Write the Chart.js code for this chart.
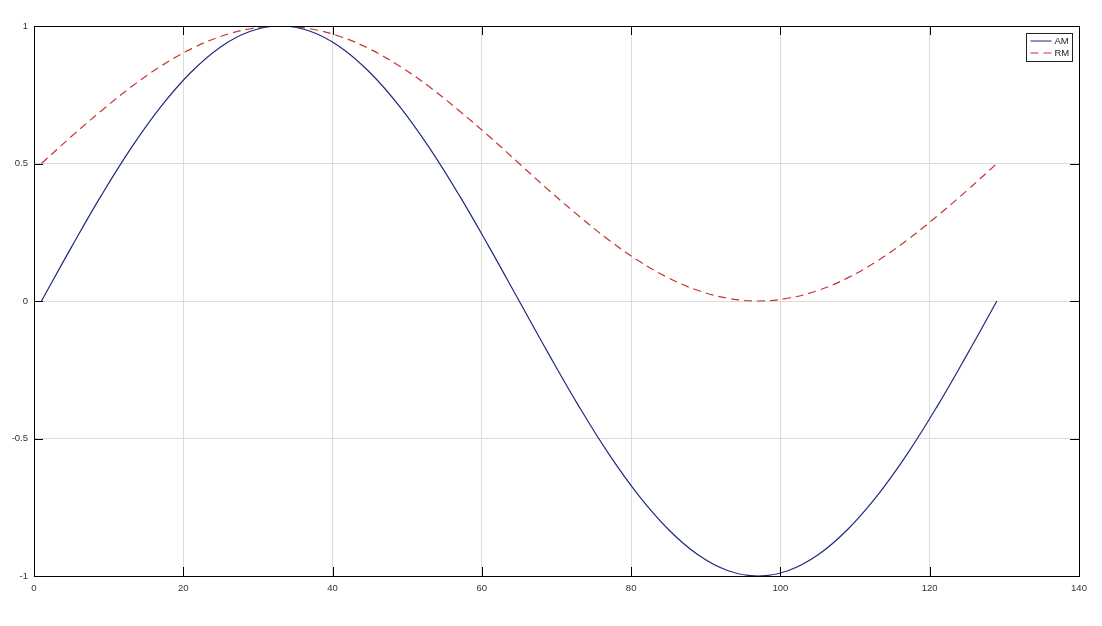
<!DOCTYPE html>
<html>
<head>
<meta charset="utf-8">
<script src="https://cdn.jsdelivr.net/npm/chart.js@4"></script>
<style>
  html, body { margin: 0; padding: 0; background: #fff; }
  #wrap { width: 1102px; height: 626px; }
</style>
</head>
<body>
<div id="wrap"><canvas id="chart"></canvas></div>
<script>
// Sample positions (x) and values
const xValues = [1, 5, 9, 13, 17, 21, 25, 29, 33, 37, 41, 45, 49, 53, 57, 61, 65,
                 69, 73, 77, 81, 85, 89, 93, 97, 101, 105, 109, 113, 117, 121, 125, 129];
const amValues = [0, 0.195, 0.383, 0.556, 0.707, 0.831, 0.924, 0.981, 1, 0.981, 0.924, 0.831, 0.707, 0.556, 0.383, 0.195, 0,
                  -0.195, -0.383, -0.556, -0.707, -0.831, -0.924, -0.981, -1, -0.981, -0.924, -0.831, -0.707, -0.556, -0.383, -0.195, 0];
const rmValues = [0.5, 0.598, 0.691, 0.778, 0.854, 0.916, 0.962, 0.99, 1, 0.99, 0.962, 0.916, 0.854, 0.778, 0.691, 0.598, 0.5,
                  0.402, 0.309, 0.222, 0.146, 0.084, 0.038, 0.01, 0, 0.01, 0.038, 0.084, 0.146, 0.222, 0.309, 0.402, 0.5];
const xTicks = [0, 20, 40, 60, 80, 100, 120, 140];
const yTicks = [-1, -0.5, 0, 0.5, 1];

const AM_COLOR = '#1f2a80';
const RM_COLOR = '#c8332e';
const RM_DASH = [8, 5];
const FONT = '"Liberation Sans", Arial, sans-serif';

function toPoints(xs, ys) {
    return xs.map((x, i) => ({ x: x, y: ys[i] }));
}

// Box, inward ticks on all four sides, and the boxed legend
const framePlugin = {
    id: 'frame',
    afterDatasetsDraw(chart) {
        const ctx = chart.ctx;
        const a = chart.chartArea;
        const xs = chart.scales.x;
        const ys = chart.scales.y;
        const len = 9;
        ctx.save();
        ctx.strokeStyle = '#000';
        ctx.lineWidth = 1;
        ctx.beginPath();
        xTicks.forEach(v => {
            const px = Math.round(xs.getPixelForValue(v)) + 0.5;
            ctx.moveTo(px, a.bottom); ctx.lineTo(px, a.bottom - len);
            ctx.moveTo(px, a.top); ctx.lineTo(px, a.top + len);
        });
        yTicks.forEach(v => {
            const py = Math.round(ys.getPixelForValue(v)) + 0.5;
            ctx.moveTo(a.left, py); ctx.lineTo(a.left + len, py);
            ctx.moveTo(a.right, py); ctx.lineTo(a.right - len, py);
        });
        ctx.stroke();
        ctx.strokeRect(Math.round(a.left) + 0.5, Math.round(a.top) + 0.5,
                       Math.round(a.right - a.left), Math.round(a.bottom - a.top));

        // legend
        const bx = 1026.5, by = 33.5, bw = 46, bh = 28;
        ctx.fillStyle = '#fff';
        ctx.fillRect(bx, by, bw, bh);
        ctx.strokeStyle = '#222';
        ctx.strokeRect(bx, by, bw, bh);
        ctx.font = '9.5px ' + FONT;
        ctx.textBaseline = 'middle';
        ctx.textAlign = 'left';
        chart.data.datasets.forEach((ds, i) => {
            const ly = by + 7.5 + i * 12;
            ctx.beginPath();
            ctx.strokeStyle = ds.borderColor;
            ctx.setLineDash(ds.borderDash || []);
            ctx.moveTo(bx + 4, ly);
            ctx.lineTo(bx + 25, ly);
            ctx.stroke();
            ctx.setLineDash([]);
            ctx.fillStyle = '#222';
            ctx.fillText(ds.label, bx + 28, ly);
        });
        ctx.restore();
    }
};

const ctx = document.getElementById('chart').getContext('2d');
new Chart(ctx, {
    type: 'line',
    data: {
        datasets: [
            {
                label: 'AM',
                data: toPoints(xValues, amValues),
                borderColor: AM_COLOR,
                borderWidth: 1.2,
                pointRadius: 0,
                tension: 0.4,
                fill: false
            },
            {
                label: 'RM',
                data: toPoints(xValues, rmValues),
                borderColor: RM_COLOR,
                borderWidth: 1.2,
                borderDash: RM_DASH,
                pointRadius: 0,
                tension: 0.4,
                fill: false
            }
        ]
    },
    options: {
        responsive: true,
        maintainAspectRatio: false,
        animation: false,
        layout: { padding: { left: 0, right: 23, top: 26, bottom: 0 } },
        plugins: {
            legend: { display: false },
            tooltip: { enabled: false }
        },
        scales: {
            x: {
                type: 'linear',
                min: 0,
                max: 140,
                afterFit(scale) { scale.height = 50; },
                afterBuildTicks(scale) { scale.ticks = xTicks.map(v => ({ value: v })); },
                grid: { color: '#dcdcdc', drawTicks: false },
                border: { display: false },
                ticks: {
                    padding: 7,
                    color: '#333',
                    font: { family: FONT, size: 9.5 },
                    maxRotation: 0,
                    callback: v => String(v)
                }
            },
            y: {
                type: 'linear',
                min: -1,
                max: 1,
                afterFit(scale) { scale.width = 34; },
                afterBuildTicks(scale) { scale.ticks = yTicks.map(v => ({ value: v })); },
                grid: { color: '#dcdcdc', drawTicks: false },
                border: { display: false },
                ticks: {
                    padding: 6,
                    color: '#333',
                    font: { family: FONT, size: 9.5 },
                    callback: v => String(v)
                }
            }
        }
    },
    plugins: [framePlugin]
});
</script>
</body>
</html>
